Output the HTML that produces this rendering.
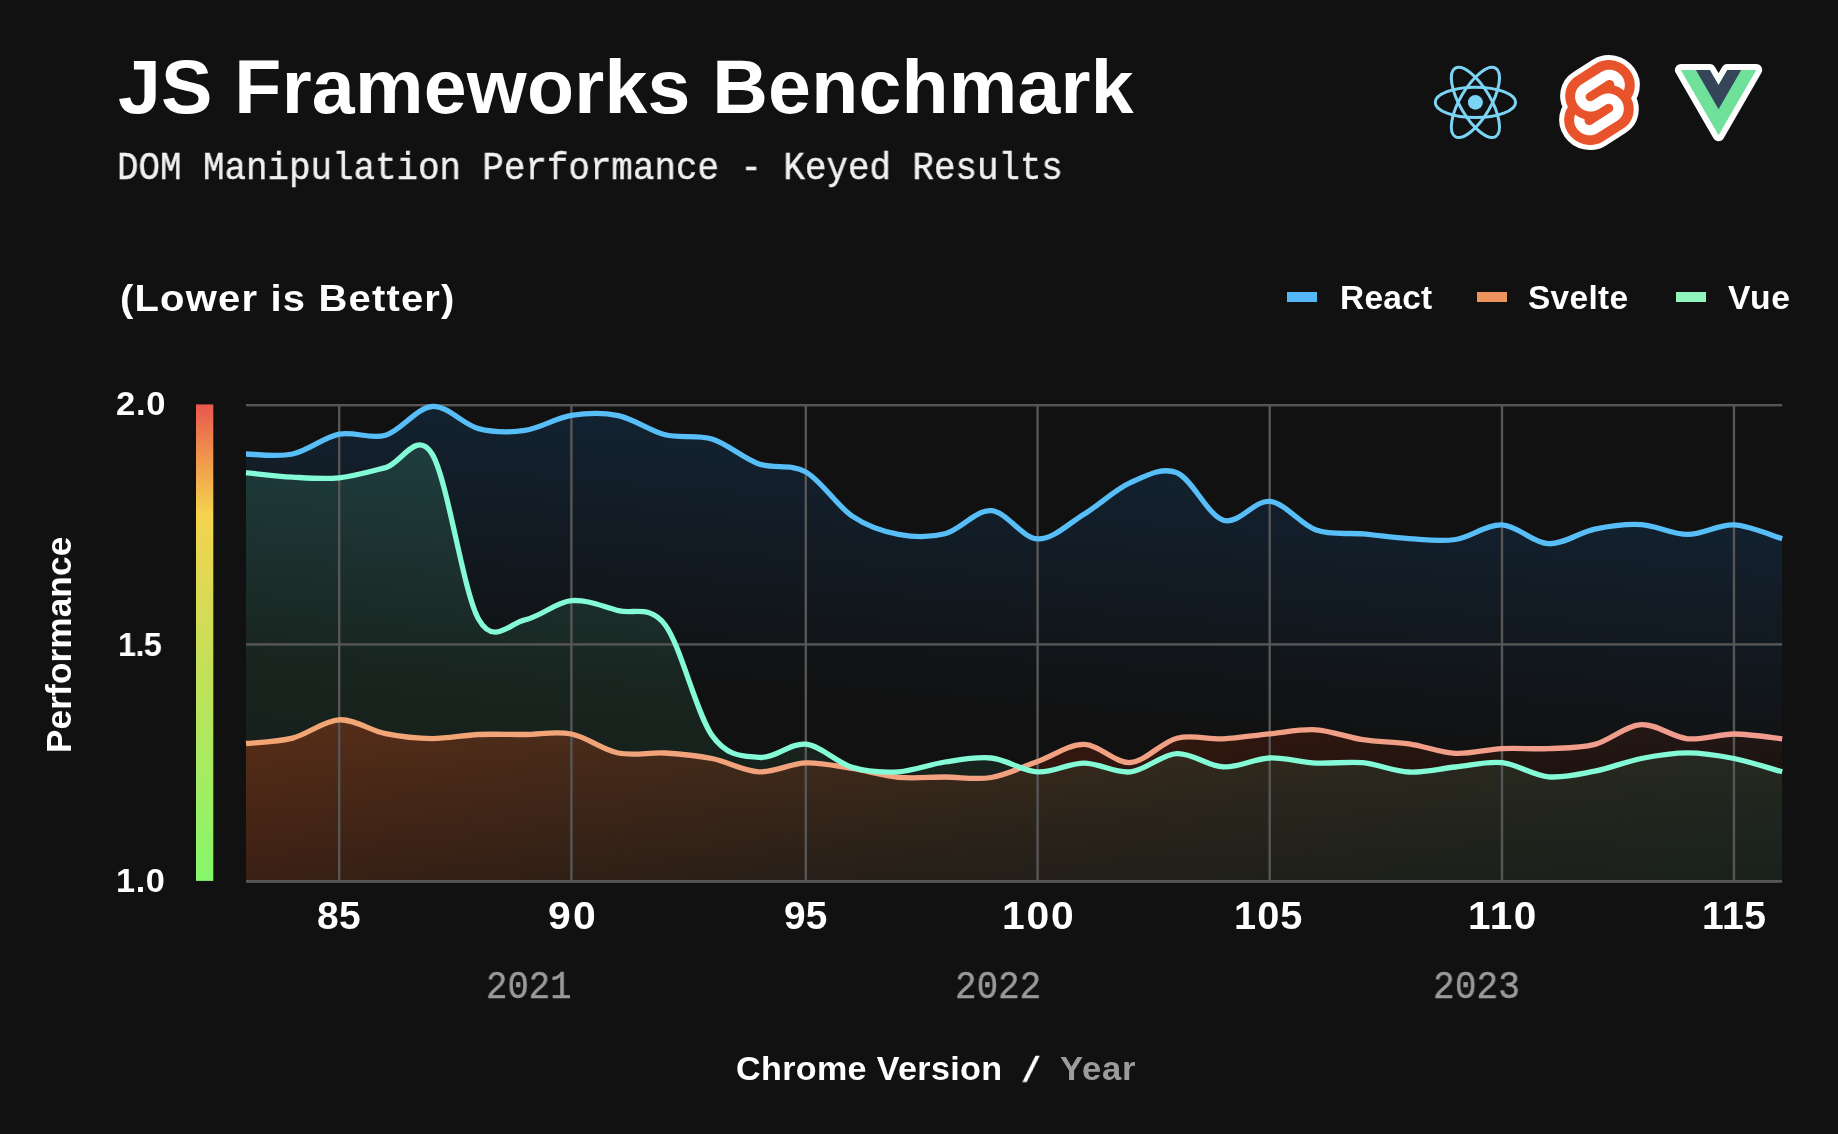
<!DOCTYPE html>
<html><head><meta charset="utf-8"><title>JS Frameworks Benchmark</title>
<style>
html,body{margin:0;padding:0;background:#111111;}
body{width:1838px;height:1134px;position:relative;overflow:hidden;font-family:"Liberation Sans",sans-serif;}
.t{position:absolute;white-space:nowrap;line-height:1;transform-origin:0 0;will-change:transform;}
svg{position:absolute;left:0;top:0;}
</style></head><body>
<svg width="1838" height="1134" viewBox="0 0 1838 1134">
<defs>
<linearGradient id="gbar" x1="0" y1="0" x2="0" y2="1">
<stop offset="0" stop-color="#e9574f"/><stop offset="0.12" stop-color="#f09a4b"/><stop offset="0.23" stop-color="#f5d34f"/><stop offset="0.55" stop-color="#c4e058"/><stop offset="1" stop-color="#86f76b"/>
</linearGradient>
<linearGradient id="fR" gradientUnits="userSpaceOnUse" x1="266" y1="154.6" x2="226" y2="655.4">
<stop offset="0" stop-color="#1e90ff" stop-opacity="0.252"/><stop offset="1" stop-color="#1e90ff" stop-opacity="0"/>
</linearGradient>
<linearGradient id="fV" gradientUnits="userSpaceOnUse" x1="307.2" y1="-207.6" x2="184.8" y2="1017.6">
<stop offset="0" stop-color="#6effb9" stop-opacity="0.277"/><stop offset="1" stop-color="#6effb9" stop-opacity="0"/>
</linearGradient>
<linearGradient id="fS" gradientUnits="userSpaceOnUse" x1="246" y1="405" x2="395.6" y2="1192.8">
<stop offset="0" stop-color="#ff3e00" stop-opacity="0.552"/><stop offset="0.708" stop-color="#ff3e00" stop-opacity="0.083"/><stop offset="0.833" stop-color="#ff3e00" stop-opacity="0.035"/><stop offset="1" stop-color="#ff3e00" stop-opacity="0"/>
</linearGradient>
<linearGradient id="lS" gradientUnits="userSpaceOnUse" x1="246" y1="0" x2="1782" y2="0">
<stop offset="0" stop-color="#f2a673"/><stop offset="1" stop-color="#f19c8e"/>
</linearGradient>
<clipPath id="cp"><rect x="246.0" y="399.2" width="1536.15" height="482.2"/></clipPath>
</defs>
<rect x="196" y="404.4" width="17.3" height="476.5" fill="url(#gbar)"/>
<g clip-path="url(#cp)">
<path d="M246.0 454.0 C253.8 454.0 277.1 457.3 292.6 454.0 C308.1 450.7 323.7 437.2 339.2 434.1 C354.7 431.0 370.2 439.8 385.6 435.2 C401.1 430.6 416.6 407.6 432.1 406.5 C447.6 405.4 463.0 424.6 478.5 428.6 C494.0 432.6 509.5 432.6 525.0 430.4 C540.4 428.2 555.8 417.9 571.4 415.4 C587.0 412.9 602.7 412.4 618.3 415.6 C633.9 418.8 649.5 430.9 665.2 434.8 C680.8 438.7 696.4 434.1 712.0 439.0 C727.7 443.9 743.3 458.4 758.9 463.9 C774.5 469.4 790.3 463.3 805.8 472.0 C821.3 480.7 836.7 505.7 852.2 516.1 C867.6 526.5 883.1 531.5 898.5 534.4 C914.0 537.3 929.4 537.8 944.9 533.8 C960.3 529.8 975.8 509.8 991.2 510.7 C1006.7 511.6 1022.1 538.3 1037.6 538.9 C1053.1 539.5 1068.5 523.6 1084.0 514.2 C1099.5 504.8 1115.0 489.6 1130.4 482.7 C1145.9 475.8 1161.4 466.6 1176.9 472.8 C1192.3 479.1 1207.8 515.4 1223.3 520.2 C1238.8 525.0 1254.2 499.8 1269.7 501.4 C1285.2 503.0 1300.7 524.7 1316.2 530.1 C1331.6 535.5 1347.1 532.5 1362.6 533.9 C1378.1 535.3 1393.6 537.8 1409.1 538.7 C1424.6 539.6 1440.1 541.8 1455.5 539.5 C1471.0 537.2 1486.5 524.2 1502.0 524.9 C1517.5 525.6 1532.9 543.0 1548.4 543.7 C1563.9 544.4 1579.3 532.3 1594.8 529.1 C1610.2 525.9 1625.7 523.7 1641.2 524.6 C1656.6 525.5 1672.1 534.4 1687.6 534.4 C1703.0 534.4 1718.2 524.2 1734.0 524.9 C1749.7 525.6 1774.1 536.4 1782.2 538.7 L1782.2 880.5 L246.0 880.5 Z" fill="url(#fR)"/>
<path d="M246.0 743.5 C253.8 742.6 277.1 742.1 292.6 738.1 C308.1 734.1 323.7 720.5 339.2 719.8 C354.7 719.1 370.2 730.6 385.6 733.7 C401.1 736.8 416.6 738.5 432.1 738.6 C447.6 738.7 463.0 735.2 478.5 734.5 C494.0 733.8 509.5 734.6 525.0 734.5 C540.4 734.4 555.8 730.9 571.4 734.0 C587.0 737.1 602.7 749.8 618.3 753.0 C633.9 756.2 649.5 752.1 665.2 753.0 C680.8 753.9 696.4 755.4 712.0 758.5 C727.7 761.6 743.3 771.1 758.9 771.8 C774.5 772.5 790.3 763.4 805.8 762.9 C821.3 762.4 836.7 766.1 852.2 768.5 C867.6 770.9 883.1 775.9 898.5 777.3 C914.0 778.7 929.4 777.0 944.9 777.0 C960.3 777.0 975.8 780.1 991.2 777.5 C1006.7 774.9 1022.1 766.9 1037.6 761.4 C1053.1 755.9 1068.5 744.2 1084.0 744.4 C1099.5 744.6 1115.0 763.5 1130.4 762.5 C1145.9 761.5 1161.4 742.1 1176.9 738.2 C1192.3 734.3 1207.8 739.6 1223.3 738.9 C1238.8 738.2 1254.2 735.3 1269.7 733.8 C1285.2 732.3 1300.7 728.8 1316.2 729.8 C1331.6 730.8 1347.1 737.2 1362.6 739.6 C1378.1 742.0 1393.6 741.6 1409.1 743.9 C1424.6 746.2 1440.1 752.6 1455.5 753.4 C1471.0 754.2 1486.5 749.4 1502.0 748.6 C1517.5 747.8 1532.9 749.3 1548.4 748.6 C1563.9 747.9 1579.3 748.4 1594.8 744.4 C1610.2 740.4 1625.7 725.6 1641.2 724.7 C1656.6 723.8 1672.1 737.2 1687.6 738.8 C1703.0 740.3 1718.2 734.0 1734.0 734.0 C1749.7 734.0 1774.1 738.0 1782.2 738.8 L1782.2 880.5 L246.0 880.5 Z" fill="url(#fS)"/>
<path d="M246.0 472.7 C253.8 473.4 277.1 476.2 292.6 477.1 C308.1 478.0 323.7 479.4 339.2 477.8 C354.7 476.2 370.2 471.6 385.6 467.6 C401.1 463.6 416.6 428.8 432.1 454.0 C447.6 479.2 463.0 591.4 478.5 619.0 C494.0 646.6 509.5 622.8 525.0 619.8 C540.4 616.8 555.8 602.2 571.4 600.7 C587.0 599.2 602.7 606.6 618.3 610.6 C633.9 614.6 649.5 604.2 665.2 625.0 C680.8 645.8 696.4 713.3 712.0 735.4 C727.7 757.5 743.3 755.9 758.9 757.4 C774.5 758.9 790.3 742.5 805.8 744.2 C821.3 745.9 836.7 762.8 852.2 767.4 C867.6 772.0 883.1 772.7 898.5 771.8 C914.0 770.9 929.4 764.3 944.9 762.0 C960.3 759.7 975.8 756.4 991.2 758.0 C1006.7 759.6 1022.1 771.0 1037.6 771.9 C1053.1 772.8 1068.5 763.1 1084.0 763.1 C1099.5 763.1 1115.0 773.5 1130.4 771.9 C1145.9 770.3 1161.4 754.4 1176.9 753.6 C1192.3 752.8 1207.8 766.2 1223.3 766.9 C1238.8 767.6 1254.2 758.6 1269.7 758.0 C1285.2 757.4 1300.7 762.3 1316.2 763.1 C1331.6 763.9 1347.1 761.2 1362.6 762.7 C1378.1 764.2 1393.6 771.3 1409.1 772.0 C1424.6 772.7 1440.1 768.5 1455.5 767.0 C1471.0 765.5 1486.5 761.1 1502.0 762.7 C1517.5 764.3 1532.9 775.4 1548.4 776.8 C1563.9 778.2 1579.3 774.2 1594.8 771.2 C1610.2 768.2 1625.7 761.5 1641.2 758.5 C1656.6 755.5 1672.1 752.9 1687.6 752.9 C1703.0 752.9 1718.2 755.4 1734.0 758.5 C1749.7 761.6 1774.1 769.6 1782.2 771.8 L1782.2 880.5 L246.0 880.5 Z" fill="url(#fV)"/>
</g>
<rect x="338.00" y="404.00" width="2.4" height="476.00" fill="#565656"/><rect x="570.20" y="404.00" width="2.4" height="476.00" fill="#565656"/><rect x="804.60" y="404.00" width="2.4" height="476.00" fill="#565656"/><rect x="1036.40" y="404.00" width="2.4" height="476.00" fill="#565656"/><rect x="1268.50" y="404.00" width="2.4" height="476.00" fill="#565656"/><rect x="1500.80" y="404.00" width="2.4" height="476.00" fill="#565656"/><rect x="1732.75" y="404.00" width="2.4" height="476.00" fill="#565656"/><rect x="246.00" y="404.00" width="1536.15" height="2.4" fill="#565656"/><rect x="246.00" y="643.20" width="1536.15" height="2.4" fill="#565656"/><rect x="246.00" y="879.95" width="1536.15" height="2.9" fill="#565656"/>
<g fill="none" stroke-width="5.3" stroke-linejoin="round">
<path d="M246.0 454.0 C253.8 454.0 277.1 457.3 292.6 454.0 C308.1 450.7 323.7 437.2 339.2 434.1 C354.7 431.0 370.2 439.8 385.6 435.2 C401.1 430.6 416.6 407.6 432.1 406.5 C447.6 405.4 463.0 424.6 478.5 428.6 C494.0 432.6 509.5 432.6 525.0 430.4 C540.4 428.2 555.8 417.9 571.4 415.4 C587.0 412.9 602.7 412.4 618.3 415.6 C633.9 418.8 649.5 430.9 665.2 434.8 C680.8 438.7 696.4 434.1 712.0 439.0 C727.7 443.9 743.3 458.4 758.9 463.9 C774.5 469.4 790.3 463.3 805.8 472.0 C821.3 480.7 836.7 505.7 852.2 516.1 C867.6 526.5 883.1 531.5 898.5 534.4 C914.0 537.3 929.4 537.8 944.9 533.8 C960.3 529.8 975.8 509.8 991.2 510.7 C1006.7 511.6 1022.1 538.3 1037.6 538.9 C1053.1 539.5 1068.5 523.6 1084.0 514.2 C1099.5 504.8 1115.0 489.6 1130.4 482.7 C1145.9 475.8 1161.4 466.6 1176.9 472.8 C1192.3 479.1 1207.8 515.4 1223.3 520.2 C1238.8 525.0 1254.2 499.8 1269.7 501.4 C1285.2 503.0 1300.7 524.7 1316.2 530.1 C1331.6 535.5 1347.1 532.5 1362.6 533.9 C1378.1 535.3 1393.6 537.8 1409.1 538.7 C1424.6 539.6 1440.1 541.8 1455.5 539.5 C1471.0 537.2 1486.5 524.2 1502.0 524.9 C1517.5 525.6 1532.9 543.0 1548.4 543.7 C1563.9 544.4 1579.3 532.3 1594.8 529.1 C1610.2 525.9 1625.7 523.7 1641.2 524.6 C1656.6 525.5 1672.1 534.4 1687.6 534.4 C1703.0 534.4 1718.2 524.2 1734.0 524.9 C1749.7 525.6 1774.1 536.4 1782.2 538.7" stroke="#57bef8"/>
<path d="M246.0 743.5 C253.8 742.6 277.1 742.1 292.6 738.1 C308.1 734.1 323.7 720.5 339.2 719.8 C354.7 719.1 370.2 730.6 385.6 733.7 C401.1 736.8 416.6 738.5 432.1 738.6 C447.6 738.7 463.0 735.2 478.5 734.5 C494.0 733.8 509.5 734.6 525.0 734.5 C540.4 734.4 555.8 730.9 571.4 734.0 C587.0 737.1 602.7 749.8 618.3 753.0 C633.9 756.2 649.5 752.1 665.2 753.0 C680.8 753.9 696.4 755.4 712.0 758.5 C727.7 761.6 743.3 771.1 758.9 771.8 C774.5 772.5 790.3 763.4 805.8 762.9 C821.3 762.4 836.7 766.1 852.2 768.5 C867.6 770.9 883.1 775.9 898.5 777.3 C914.0 778.7 929.4 777.0 944.9 777.0 C960.3 777.0 975.8 780.1 991.2 777.5 C1006.7 774.9 1022.1 766.9 1037.6 761.4 C1053.1 755.9 1068.5 744.2 1084.0 744.4 C1099.5 744.6 1115.0 763.5 1130.4 762.5 C1145.9 761.5 1161.4 742.1 1176.9 738.2 C1192.3 734.3 1207.8 739.6 1223.3 738.9 C1238.8 738.2 1254.2 735.3 1269.7 733.8 C1285.2 732.3 1300.7 728.8 1316.2 729.8 C1331.6 730.8 1347.1 737.2 1362.6 739.6 C1378.1 742.0 1393.6 741.6 1409.1 743.9 C1424.6 746.2 1440.1 752.6 1455.5 753.4 C1471.0 754.2 1486.5 749.4 1502.0 748.6 C1517.5 747.8 1532.9 749.3 1548.4 748.6 C1563.9 747.9 1579.3 748.4 1594.8 744.4 C1610.2 740.4 1625.7 725.6 1641.2 724.7 C1656.6 723.8 1672.1 737.2 1687.6 738.8 C1703.0 740.3 1718.2 734.0 1734.0 734.0 C1749.7 734.0 1774.1 738.0 1782.2 738.8" stroke="url(#lS)"/>
<path d="M246.0 472.7 C253.8 473.4 277.1 476.2 292.6 477.1 C308.1 478.0 323.7 479.4 339.2 477.8 C354.7 476.2 370.2 471.6 385.6 467.6 C401.1 463.6 416.6 428.8 432.1 454.0 C447.6 479.2 463.0 591.4 478.5 619.0 C494.0 646.6 509.5 622.8 525.0 619.8 C540.4 616.8 555.8 602.2 571.4 600.7 C587.0 599.2 602.7 606.6 618.3 610.6 C633.9 614.6 649.5 604.2 665.2 625.0 C680.8 645.8 696.4 713.3 712.0 735.4 C727.7 757.5 743.3 755.9 758.9 757.4 C774.5 758.9 790.3 742.5 805.8 744.2 C821.3 745.9 836.7 762.8 852.2 767.4 C867.6 772.0 883.1 772.7 898.5 771.8 C914.0 770.9 929.4 764.3 944.9 762.0 C960.3 759.7 975.8 756.4 991.2 758.0 C1006.7 759.6 1022.1 771.0 1037.6 771.9 C1053.1 772.8 1068.5 763.1 1084.0 763.1 C1099.5 763.1 1115.0 773.5 1130.4 771.9 C1145.9 770.3 1161.4 754.4 1176.9 753.6 C1192.3 752.8 1207.8 766.2 1223.3 766.9 C1238.8 767.6 1254.2 758.6 1269.7 758.0 C1285.2 757.4 1300.7 762.3 1316.2 763.1 C1331.6 763.9 1347.1 761.2 1362.6 762.7 C1378.1 764.2 1393.6 771.3 1409.1 772.0 C1424.6 772.7 1440.1 768.5 1455.5 767.0 C1471.0 765.5 1486.5 761.1 1502.0 762.7 C1517.5 764.3 1532.9 775.4 1548.4 776.8 C1563.9 778.2 1579.3 774.2 1594.8 771.2 C1610.2 768.2 1625.7 761.5 1641.2 758.5 C1656.6 755.5 1672.1 752.9 1687.6 752.9 C1703.0 752.9 1718.2 755.4 1734.0 758.5 C1749.7 761.6 1774.1 769.6 1782.2 771.8" stroke="#84fbd6"/>
</g>
<rect x="1287" y="292" width="30" height="10" fill="#55b7f5"/>
<rect x="1477" y="292" width="30" height="10" fill="#ee935c"/>
<rect x="1676" y="292" width="30" height="10" fill="#90f5bb"/>
<!-- React icon -->
<g transform="translate(1475.4 102.4) scale(3.65 3.6)" fill="none" stroke="#7cd4f5" stroke-width="0.82">
<circle r="2.05" fill="#7cd4f5" stroke="none"/>
<ellipse rx="11" ry="4.2"/><ellipse rx="11" ry="4.2" transform="rotate(60)"/><ellipse rx="11" ry="4.2" transform="rotate(120)"/>
</g>
<!-- Svelte icon -->
<g transform="translate(1564.2 60) scale(0.72)">
<path d="M91.8 15.6C80.9-.1 59.2-4.7 43.6 5.2L16.1 22.8C8.6 27.5 3.4 35.2 1.9 43.9c-1.3 7.3-.2 14.8 3.3 21.3-2.4 3.6-4 7.6-4.7 11.8-1.6 8.9.5 18.1 5.7 25.4 11 15.7 32.6 20.3 48.2 10.4l27.5-17.5c7.5-4.7 12.700-12.400 14.200-21.100 1.300-7.300.200-14.800-3.300-21.300 2.400-3.600 4-7.600 4.700-11.800 1.700-9-.400-18.200-5.700-25.500" fill="#e9532b" stroke="#ffffff" stroke-width="14" stroke-linejoin="round"/>
<path d="M91.8 15.6C80.9-.1 59.2-4.7 43.6 5.2L16.1 22.8C8.6 27.5 3.4 35.2 1.9 43.9c-1.3 7.3-.2 14.8 3.3 21.3-2.4 3.6-4 7.6-4.7 11.8-1.6 8.9.5 18.1 5.7 25.4 11 15.7 32.6 20.3 48.2 10.4l27.5-17.5c7.5-4.7 12.700-12.400 14.200-21.100 1.300-7.300.200-14.800-3.300-21.300 2.400-3.600 4-7.600 4.700-11.800 1.700-9-.400-18.200-5.700-25.500" fill="#e9532b"/>
<path d="M40.9 103.9c-8.9 2.3-18.2-1.2-23.4-8.7-3.2-4.4-4.400-9.900-3.500-15.300.2-.9.4-1.700.6-2.600l.5-1.600 1.400 1c3.3 2.400 6.900 4.200 10.800 5.400l1 .3-.1 1c-.1 1.400.3 2.900 1.100 4.100 1.600 2.300 4.400 3.400 7.100 2.700.6-.2 1.200-.4 1.700-.7L65.500 72c1.400-.9 2.300-2.200 2.600-3.800.3-1.600-.1-3.300-1-4.600-1.600-2.300-4.400-3.300-7.100-2.600-.6.2-1.200.4-1.700.7l-10.500 6.700c-1.700 1.100-3.600 1.900-5.600 2.400-8.900 2.300-18.200-1.200-23.400-8.700-3.100-4.400-4.400-9.900-3.400-15.300.9-5.200 4.100-9.900 8.600-12.700l27.500-17.500c1.700-1.100 3.600-1.900 5.600-2.500 8.900-2.300 18.200 1.200 23.400 8.700 3.200 4.400 4.400 9.900 3.500 15.300-.2.900-.4 1.700-.7 2.600l-.5 1.600-1.400-1c-3.300-2.400-6.900-4.200-10.800-5.400l-1-.3.1-1c.1-1.400-.3-2.900-1.100-4.100-1.600-2.300-4.400-3.300-7.100-2.600-.6.2-1.200.4-1.700.7L32.400 46.100c-1.400.9-2.300 2.200-2.600 3.800s.1 3.300 1 4.600c1.600 2.300 4.400 3.300 7.100 2.600.6-.2 1.200-.4 1.700-.7l10.500-6.700c1.700-1.100 3.600-1.900 5.600-2.400 8.900-2.300 18.200 1.200 23.400 8.700 3.200 4.400 4.400 9.900 3.500 15.300-.9 5.200-4.100 9.900-8.600 12.700l-27.500 17.500c-1.700 1.100-3.600 1.900-5.600 2.400" fill="#ffffff"/>
</g>
<!-- Vue icon -->
<g transform="translate(1680.8 69.9) scale(0.2885)">
<path d="M161.096 0.001l-30.225 52.351L100.647 0.001H0l130.877 226.688L261.749 0.001z" fill="#6fe19b" stroke="#ffffff" stroke-width="41" stroke-linejoin="round"/>
<path d="M161.096 0.001l-30.225 52.351L100.647 0.001H0l130.877 226.688L261.749 0.001z" fill="#6fe19b"/>
<path d="M161.096 0.001l-30.225 52.351L100.647 0.001H52.346l78.526 136.01L209.398 0.001z" fill="#35465b"/>
</g>
</svg>
<div class="t" id="title" style="left:118.05px;top:48.5px;font-size:76.6px;color:#ffffff;font-weight:700;font-family:'Liberation Sans',sans-serif;transform:scaleX(1.0055);letter-spacing:0.245px;">JS Frameworks Benchmark</div>
<div class="t" id="sub" style="left:116.63px;top:149.7px;font-size:38.32px;color:#f0f0f0;font-weight:400;font-family:'Liberation Mono',monospace;transform:scaleX(0.935);-webkit-text-stroke:0.45px #f0f0f0;">DOM Manipulation Performance - Keyed Results</div>
<div class="t" id="lower" style="left:119.81px;top:280.1px;font-size:37.53px;color:#ffffff;font-weight:700;font-family:'Liberation Sans',sans-serif;transform:scaleX(1.0652);letter-spacing:1.122px;">(Lower is Better)</div>
<div class="t" id="lgR" style="left:1339.74px;top:281.9px;font-size:32.87px;color:#ffffff;font-weight:700;font-family:'Liberation Sans',sans-serif;transform:scaleX(1.0156);letter-spacing:0.317px;">React</div>
<div class="t" id="lgS" style="left:1528.26px;top:281.9px;font-size:32.87px;color:#ffffff;font-weight:700;font-family:'Liberation Sans',sans-serif;transform:scaleX(1.016);letter-spacing:0.325px;">Svelte</div>
<div class="t" id="lgV" style="left:1727.51px;top:281.9px;font-size:32.87px;color:#ffffff;font-weight:700;font-family:'Liberation Sans',sans-serif;transform:scaleX(1.0254);letter-spacing:0.647px;">Vue</div>
<div class="t" id="y20" style="left:115.77px;top:386.8px;font-size:33.36px;color:#ffffff;font-weight:700;font-family:'Liberation Sans',sans-serif;transform:scaleX(1.0354);letter-spacing:0.727px;">2.0</div>
<div class="t" id="y15" style="left:118.47px;top:627.8px;font-size:33.36px;color:#ffffff;font-weight:700;font-family:'Liberation Sans',sans-serif;transform:scaleX(0.9715);letter-spacing:-0.621px;">1.5</div>
<div class="t" id="y10" style="left:116.37px;top:863.9px;font-size:33.36px;color:#ffffff;font-weight:700;font-family:'Liberation Sans',sans-serif;transform:scaleX(1.0277);letter-spacing:0.585px;">1.0</div>
<div class="t" id="x85" style="left:317.13px;top:897.4px;font-size:38.44px;color:#ffffff;font-weight:700;font-family:'Liberation Sans',sans-serif;transform:scaleX(1.0148);letter-spacing:0.367px;">85</div>
<div class="t" id="x90" style="left:548.46px;top:897.4px;font-size:38.44px;color:#ffffff;font-weight:700;font-family:'Liberation Sans',sans-serif;transform:scaleX(1.0645);letter-spacing:2.226px;">90</div>
<div class="t" id="x95" style="left:783.63px;top:897.4px;font-size:38.44px;color:#ffffff;font-weight:700;font-family:'Liberation Sans',sans-serif;transform:scaleX(1.0109);letter-spacing:0.22px;">95</div>
<div class="t" id="x100" style="left:1001.94px;top:897.4px;font-size:38.44px;color:#ffffff;font-weight:700;font-family:'Liberation Sans',sans-serif;transform:scaleX(1.0606);letter-spacing:1.754px;">100</div>
<div class="t" id="x105" style="left:1233.9px;top:897.4px;font-size:38.44px;color:#ffffff;font-weight:700;font-family:'Liberation Sans',sans-serif;transform:scaleX(1.0345);letter-spacing:1.008px;">105</div>
<div class="t" id="x110" style="left:1468.16px;top:897.4px;font-size:38.44px;color:#ffffff;font-weight:700;font-family:'Liberation Sans',sans-serif;transform:scaleX(1.0536);letter-spacing:1.438px;">110</div>
<div class="t" id="x115" style="left:1701.55px;top:897.4px;font-size:38.44px;color:#ffffff;font-weight:700;font-family:'Liberation Sans',sans-serif;transform:scaleX(1.0168);letter-spacing:0.46px;">115</div>
<div class="t" id="yr21" style="left:486.35px;top:967.8px;font-size:39.48px;color:#9a9a9a;font-weight:400;font-family:'Liberation Mono',monospace;transform:scaleX(0.903);-webkit-text-stroke:0.45px #9a9a9a;">2021</div>
<div class="t" id="yr22" style="left:954.53px;top:967.8px;font-size:39.48px;color:#9a9a9a;font-weight:400;font-family:'Liberation Mono',monospace;transform:scaleX(0.91);-webkit-text-stroke:0.45px #9a9a9a;">2022</div>
<div class="t" id="yr23" style="left:1432.8px;top:967.8px;font-size:39.48px;color:#9a9a9a;font-weight:400;font-family:'Liberation Mono',monospace;transform:scaleX(0.9182);-webkit-text-stroke:0.45px #9a9a9a;">2023</div>
<div class="t" id="cv" style="left:735.69px;top:1052.1px;font-size:33.43px;color:#ffffff;font-weight:700;font-family:'Liberation Sans',sans-serif;transform:scaleX(1.0192);letter-spacing:0.362px;">Chrome Version</div>
<div class="t" id="sl" style="left:1030.6px;top:1053.2px;font-size:35.5px;color:#fff;font-weight:700;transform:skewX(-17deg);">/</div>
<div class="t" id="yr" style="left:1059.61px;top:1052.1px;font-size:33.43px;color:#9c9c9c;font-weight:700;font-family:'Liberation Sans',sans-serif;transform:scaleX(1.0351);letter-spacing:0.797px;">Year</div>
<div class="t" id="perf" style="left:42.35px;top:752.65px;font-size:34.97px;color:#ffffff;font-weight:700;font-family:'Liberation Sans',sans-serif;transform:rotate(-90deg) scaleX(1.0057);letter-spacing:0.119px;">Performance</div>
</body></html>
